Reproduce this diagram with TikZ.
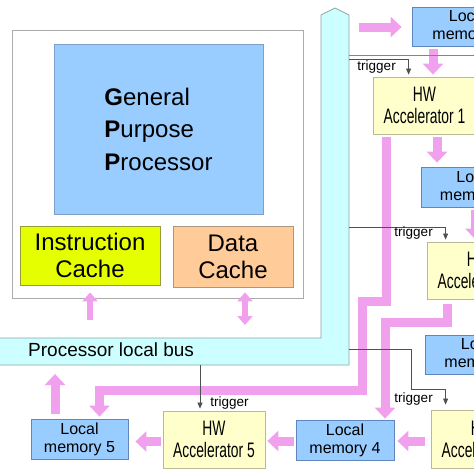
\documentclass[tikz,border=0pt]{standalone}
\usepackage{fontspec}
\setmainfont{Liberation Sans}
\newfontfamily\narrowfont[FakeStretch=0.66]{Liberation Sans}
\usetikzlibrary{arrows.meta,positioning,calc}
\definecolor{busfill}{RGB}{204,255,255}
\definecolor{busedge}{RGB}{140,165,165}
\definecolor{memblue}{RGB}{153,204,255}
\definecolor{memedge}{RGB}{95,135,190}
\definecolor{hwfill}{RGB}{255,255,204}
\definecolor{hwedge}{RGB}{185,185,150}
\definecolor{icfill}{RGB}{230,255,0}
\definecolor{icedge}{RGB}{150,155,60}
\definecolor{dcfill}{RGB}{255,204,153}
\definecolor{dcedge}{RGB}{170,150,130}
\definecolor{datapink}{RGB}{240,160,236}
\definecolor{trigline}{RGB}{80,80,80}

\tikzset{
    membox/.style={draw=memedge, fill=memblue, line width=0.8pt, inner sep=0pt,
        minimum width=#1, minimum height=40pt, align=center,
        font=\fontsize{16}{18}\selectfont},
    membox/.default=98pt,
    hwbox/.style={draw=hwedge, fill=hwfill, line width=0.8pt, inner sep=0pt,
        minimum width=103pt, minimum height=57pt, align=center,
        font=\narrowfont\fontsize{21}{22}\selectfont},
    fat/.style={draw=datapink, line width=9pt, -{Triangle[width=20pt,length=11pt]}},
    thinfat/.style={draw=datapink, line width=6.5pt, -{Triangle[width=15pt,length=9pt]}},
    bar/.style={fat, line join=miter},
    trig/.style={draw=trigline, line width=0.7pt, -{Triangle[width=5pt,length=6pt]}},
    triglabel/.style={anchor=base east, inner sep=0pt, xshift=-12.5pt, yshift=-11.5pt,
        font=\fontsize{13.5}{14}\selectfont}
}

\begin{document}
\begin{tikzpicture}[x=1pt, y=-1pt]
    \useasboundingbox (0,0) rectangle (474,474);
    \clip (0,0) rectangle (474,474);

    % Processor local bus
    \draw[draw=busedge, fill=busfill, line width=0.8pt]
        (-2,338) -| (321,15) -- (335,8) -- (349,15) |- (-2,365) -- cycle;
    \node[anchor=west, inner sep=0pt, font=\fontsize{19}{20}\selectfont] (busl) at (28,350) {Processor local bus};
    \coordinate (busT) at (0,338);
    \coordinate (busB) at (0,365);
    \coordinate (bm1) at (349,27);
    \coordinate (bx) at (349,55);
    \coordinate (offr) at (480,55);
    \coordinate (t1) at (349,59);
    \coordinate (t2) at (349,227);
    \coordinate (t3) at (349,349);
    \coordinate (t5) at (200,365);

    % processor with its caches
    \node[draw=black!33, fill=white, line width=1pt, minimum width=291pt, minimum height=268pt] (cpu) at (157.5,164) {};
    \node[draw=memedge!80, fill=memblue, line width=0.8pt, minimum width=209pt, minimum height=170pt,
        align=left, font=\fontsize{24}{32.5}\selectfont] (gpp) at (158.5,129)
        {\textbf{G}eneral\\\textbf{P}urpose\\\textbf{P}rocessor};
    \node[draw=icedge, fill=icfill, line width=0.8pt, minimum width=140pt, minimum height=59pt,
        align=center, font=\fontsize{24}{27}\selectfont] (icache) at (90,255.5) {Instruction\\Cache};
    \node[draw=dcedge, fill=dcfill, line width=0.8pt, minimum width=120pt, minimum height=61pt,
        align=center, font=\fontsize{24}{27}\selectfont] (dcache) at (233,256.5) {Data\\Cache};

    % memories and accelerators
    \node[membox=112pt, minimum height=39pt] (lm1) at (468,26.5) {Local\\memory 1};
    \node[hwbox] (hw1) at (424.5,105.5) {HW\\Accelerator 1};
    \node[membox=109pt] (lm2) at (475.5,187) {Local\\memory 2};
    \node[hwbox] (hw2) at (478.5,270.5) {HW\\Accelerator 2};
    \node[membox=110pt, minimum height=39pt] (lm3) at (480,354.5) {Local\\memory 3};
    \node[hwbox, minimum height=58pt] (hw3) at (482.5,439) {HW\\Accelerator 3};
    \node[membox] (lm4) at (345,440) {Local\\memory 4};
    \node[hwbox, minimum width=102pt] (hw5) at (214,439.5) {HW\\Accelerator 5};
    \node[membox=97pt] (lm5) at (79.5,439) {Local\\memory 5};

    % data transfers
    \draw[fat, shorten <=10pt, shorten >=10pt] (bm1) -- (bm1 -| lm1.west);
    \draw[fat, shorten <=3pt, shorten >=2pt] ([xshift=-35pt]lm1.south) -- ([xshift=-35pt]lm1.south |- hw1.north);
    \draw[fat, shorten <=3pt, shorten >=4pt] ([xshift=12.5pt]hw1.south) -- ([xshift=12.5pt]hw1.south |- lm2.north);
    \draw[fat, shorten <=3pt, shorten >=2pt] (lm2.south) -- (lm2.south |- hw2.north);
    \draw[fat, shorten <=6pt, shorten >=3pt] ([yshift=-2pt]hw3.west) -- ([yshift=-2pt]hw3.west -| lm4.east);
    \draw[fat, shorten <=2pt, shorten >=2pt] ([yshift=-1pt]lm4.west) -- ([yshift=-1pt]lm4.west -| hw5.east);
    \draw[fat, shorten <=2pt, shorten >=7pt] ([yshift=-2pt]hw5.west) -- ([yshift=-2pt]hw5.west -| lm5.east);
    \draw[fat, shorten <=5pt, shorten >=9pt] ([xshift=-24.5pt]lm5.north) -- ([xshift=-24.5pt]lm5.north |- busB);
    \draw[thinfat, shorten <=18pt, shorten >=7pt] (icache.south |- busT) -- (icache.south);
    \draw[thinfat, {Triangle[width=15pt,length=9pt]}-{Triangle[width=15pt,length=9pt]},
        shorten <=13pt, shorten >=5pt] ([xshift=12pt]dcache.south |- busT) -- ([xshift=12pt]dcache.south);

    \draw[bar, shorten <=3pt, shorten >=2pt] ([xshift=-38pt]hw1.south) -- ++(0,167) -| ++(-24,89) -| ([xshift=20pt]lm5.north);
    \draw[bar, shorten <=5pt, shorten >=1pt] ([xshift=-31.5pt]hw2.south) -- ++(0,23) -| ([xshift=40pt]lm4.north);

    % trigger lines
    \draw[draw=trigline!70, line width=0.7pt] (bx) -- (offr);
    \draw[trig, shorten >=2pt] (t1) -| ([xshift=36pt]hw1.north west) node[pos=.5, triglabel] {trigger};
    \draw[trig, shorten >=2pt] (t2) -| ([xshift=19pt]hw2.north west) node[pos=.5, triglabel, yshift=2.5pt] {trigger};
    \draw[trig, shorten >=5pt] (t3) -| ++(62,40) -| ([xshift=15pt]hw3.north west) node[pos=.5, triglabel, yshift=-2pt] {trigger};
    \draw[trig, shorten >=2pt] (t5) -- (t5 |- hw5.north)
        node[pos=1, anchor=base west, inner sep=0pt, xshift=10pt, yshift=4pt, font=\fontsize{13.5}{14}\selectfont] {trigger};
\end{tikzpicture}
\end{document}
